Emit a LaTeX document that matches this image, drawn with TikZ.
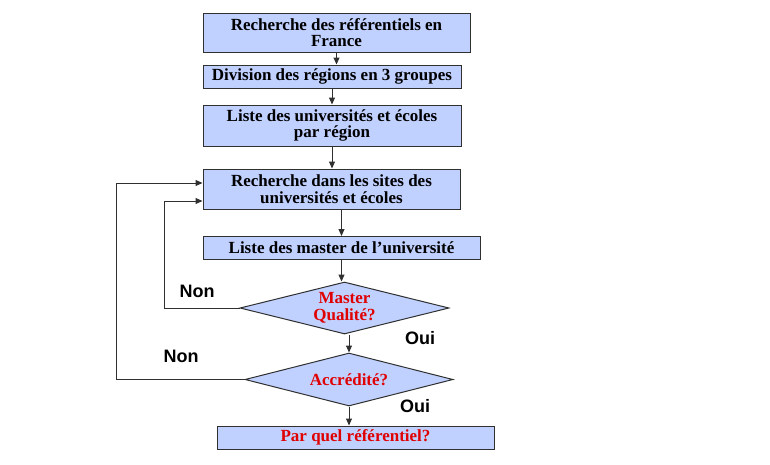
\documentclass[tikz,border=0pt]{standalone}
\usepackage{fontspec}
\setmainfont{Liberation Serif}
\setsansfont{Liberation Sans}
\usetikzlibrary{arrows.meta,positioning,shapes.geometric,calc}
\definecolor{flowfill}{HTML}{C0D0FF}
\definecolor{flowline}{HTML}{303030}
\definecolor{flowred}{HTML}{E00000}
\tikzset{
  box/.style={draw=flowline,fill=flowfill,line width=1pt,align=center,inner sep=0pt,font=\fontsize{17}{16.5}\selectfont\bfseries},
  redbox/.style={box,text=flowred},
  test/.style={diamond,aspect=4,draw=flowline,fill=flowfill,line width=1pt,align=center,inner sep=0pt,text=flowred,font=\fontsize{17}{16.5}\selectfont\bfseries},
  lab/.style={font=\fontsize{18}{18}\selectfont\sffamily\bfseries},
  ar/.style={-{Triangle[length=7pt,width=6pt]},draw=flowline,line width=1pt},
}
\begin{document}
\begin{tikzpicture}[x=1pt,y=-1pt]
  \useasboundingbox (0,0) rectangle (770,464);
  \node[box,minimum width=267pt,minimum height=39pt] (b1) at (336.5,32.5){Recherche des référentiels en\\France};
  \node[box,minimum width=258pt,minimum height=23pt] (b2) at (332,76.5){Division des régions en 3 groupes};
  \node[box,minimum width=258pt,minimum height=41pt] (b3) at (332,125.5){Liste des universités et écoles\\par région};
  \node[box,minimum width=257pt,minimum height=40pt] (b4) at (331.5,189){Recherche dans les sites des\\universités et écoles};
  \node[box,minimum width=277pt,minimum height=23pt] (b5) at (341.5,248){Liste des master de l’université};
  \node[test,minimum width=209pt,minimum height=52pt] (d1) at (344.5,308){Master\\Qualité?};
  \node[test,minimum width=208pt,minimum height=53pt] (d2) at (349,379.5){Accrédité?};
  \node[redbox,minimum width=277pt,minimum height=23pt] (b6) at (355.5,437.5){Par quel référentiel?};
  % main flow
  \draw[ar] (b1.south) -- (b1.south |- b2.north);
  \draw[ar] (b2.south) -- (b2.south |- b3.north);
  \draw[ar] (b3.south) -- (b3.south |- b4.north);
  \draw[ar] (b5.north |- b4.south) -- (b5.north);
  \draw[ar] (b5.south) -- (b5.south |- d1.north);
  \draw[ar] (d2.north |- d1.south) -- (d2.north);
  \draw[ar] (d2.south) -- (d2.south |- b6.north);
  % loops back
  \coordinate (n1) at (164,201);
  \coordinate (n2) at (116,183);
  \draw[ar] (d1.west) -| (n1) -- (n1 -| b4.west);
  \draw[ar] (d2.west) -| (n2) -- (n2 -| b4.west);
  \node[lab] (non1) at (197,291){Non};
  \node[lab] (non2) at (181,356){Non};
  \node[lab] (oui1) at (420,338){Oui};
  \node[lab] (oui2) at (415,406){Oui};
\end{tikzpicture}
\end{document}
